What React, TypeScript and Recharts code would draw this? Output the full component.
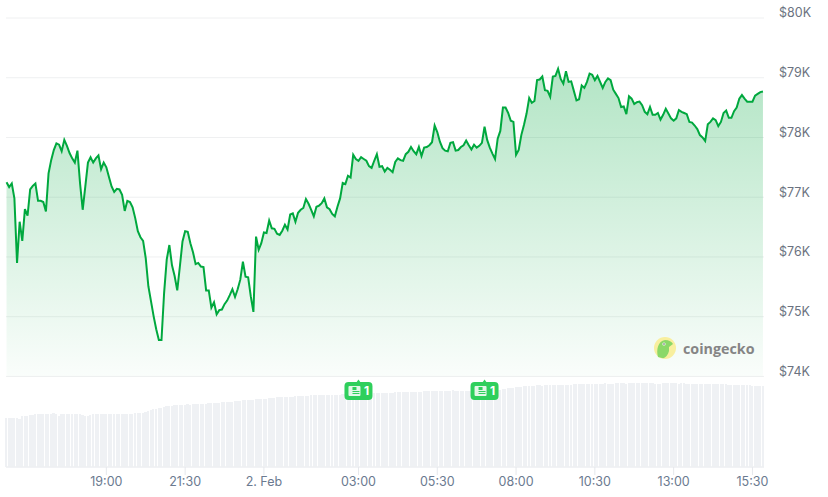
import {
  ComposedChart,
  Area,
  Bar,
  XAxis,
  YAxis,
  CartesianGrid,
  ReferenceDot,
} from 'recharts';

// price in $K, one reading every 5 minutes starting 15:50
const prices = [
  77.25, 77.17, 77.23, 76.98, 75.9, 76.59, 76.27, 76.8, 76.69, 77.13, 77.19, 77.23,
  76.94, 76.94, 76.92, 76.76, 77.4, 77.62, 77.79, 77.9, 77.88, 77.77, 77.96, 77.86,
  77.74, 77.65, 77.58, 77.78, 77.23, 76.79, 77.18, 77.58, 77.67, 77.58, 77.65, 77.7,
  77.47, 77.58, 77.5, 77.34, 77.18, 77.09, 77.14, 77.13, 77.04, 76.77, 76.94, 76.92,
  76.83, 76.65, 76.43, 76.33, 76.27, 75.98, 75.51, 75.26, 75.01, 74.79, 74.61, 74.61,
  75.4, 75.96, 76.2, 75.86, 75.68, 75.44, 75.84, 76.26, 76.43, 76.42, 76.23, 76.08,
  75.88, 75.9, 75.84, 75.83, 75.44, 75.44, 75.15, 75.24, 75.04, 75.11, 75.12, 75.21,
  75.27, 75.36, 75.46, 75.33, 75.46, 75.62, 75.92, 75.67, 75.66, 75.34, 75.08, 76.34,
  76.12, 76.23, 76.41, 76.4, 76.61, 76.48, 76.47, 76.39, 76.37, 76.44, 76.54, 76.46,
  76.71, 76.73, 76.59, 76.74, 76.79, 76.82, 76.97, 76.89, 76.79, 76.68, 76.84, 76.86,
  76.9, 76.98, 76.83, 76.8, 76.72, 76.68, 76.84, 76.98, 77.24, 77.22, 77.36, 77.33,
  77.71, 77.64, 77.61, 77.67, 77.64, 77.61, 77.52, 77.49, 77.61, 77.72, 77.51, 77.52,
  77.43, 77.49, 77.46, 77.42, 77.59, 77.65, 77.62, 77.61, 77.72, 77.76, 77.84, 77.77,
  77.72, 77.84, 77.69, 77.83, 77.84, 77.87, 77.92, 78.2, 78.09, 77.93, 77.82, 77.78,
  77.77, 77.91, 77.92, 77.78, 77.79, 77.84, 77.87, 77.95, 77.87, 77.8, 77.88, 77.83,
  77.86, 77.91, 78.18, 77.96, 77.83, 77.73, 77.64, 77.98, 78.11, 78.5, 78.5, 78.41,
  78.28, 78.26, 77.71, 77.79, 78.04, 78.21, 78.4, 78.66, 78.58, 78.61, 78.96, 78.97,
  79.02, 78.79, 78.78, 78.68, 79.02, 79.03, 79.15, 78.98, 78.9, 79.11, 78.93, 78.94,
  78.78, 78.62, 78.64, 78.87, 78.83, 78.93, 79.07, 79.05, 78.96, 79.03, 78.93, 78.83,
  78.93, 78.99, 78.96, 78.8, 78.73, 78.66, 78.51, 78.52, 78.39, 78.69, 78.65, 78.56,
  78.59, 78.6, 78.54, 78.43, 78.39, 78.51, 78.38, 78.38, 78.41, 78.3, 78.38, 78.48,
  78.4, 78.32, 78.28, 78.32, 78.46, 78.43, 78.41, 78.39, 78.26, 78.25, 78.2, 78.14,
  78.04, 78, 77.94, 78.22, 78.26, 78.32, 78.29, 78.19, 78.26, 78.41, 78.45, 78.33,
  78.33, 78.44, 78.5, 78.65, 78.71, 78.65, 78.6, 78.6, 78.6, 78.7, 78.73, 78.76,
  78.77,
];

// volume in $B, same readings
const volumes = [
  34.9, 34.9, 34.9, 34.9, 34.9, 34.4, 36.4, 36.4, 36.4, 37.1, 37.1, 37.8,
  37.8, 37.8, 37.8, 37.8, 37.8, 37.8, 38.2, 37.8, 36.4, 37.8, 37.8, 37.8,
  37.8, 37.8, 37.8, 37.8, 37.8, 37.1, 36.4, 36.4, 36.9, 37.8, 37.8, 37.8,
  37.8, 37.8, 37.8, 37.8, 37.8, 37.8, 37.8, 37.8, 37.8, 37.8, 37.8, 37.8,
  37.8, 38.3, 38.8, 38.5, 38.8, 39.2, 39.9, 40.5, 41.0, 41.3, 41.8, 42.3,
  42.8, 43.2, 43.2, 43.6, 43.9, 44.2, 44.2, 44.5, 44.2, 44.9, 44.5, 44.9,
  44.9, 44.9, 44.9, 45.2, 45.2, 45.5, 45.5, 45.5, 45.9, 45.9, 46.3, 46.3,
  46.3, 46.6, 46.6, 46.9, 47.1, 47.1, 47.4, 47.8, 47.8, 47.4, 47.8, 48.2,
  48.5, 48.8, 48.5, 48.8, 49.2, 49.2, 49.2, 49.6, 49.6, 49.9, 49.9, 50.2,
  50.2, 50.2, 50.6, 50.6, 50.6, 50.9, 50.9, 50.9, 51.3, 51.3, 51.3, 51.3,
  51.3, 51.3, 51.3, 51.3, 51.3, 51.3, 51.6, 51.6, 51.9, 52.3, 52.3, 52.7,
  52.7, 52.7, 52.7, 52.7, 52.7, 52.7, 52.7, 52.7, 52.4, 52.7, 52.7, 52.7,
  52.7, 52.7, 52.7, 52.7, 53.1, 53.1, 53.5, 53.5, 53.5, 53.5, 53.5, 53.5,
  53.5, 53.5, 53.5, 53.9, 53.9, 54.2, 54.2, 54.2, 54.2, 54.2, 54.2, 54.2,
  54.2, 54.2, 54.6, 54.2, 54.2, 54.2, 54.2, 54.2, 54.2, 54.2, 54.2, 54.2,
  54.2, 54.2, 54.2, 54.2, 54.2, 54.2, 54.9, 54.9, 54.9, 55.3, 55.6, 56.3,
  56.3, 56.3, 56.9, 56.9, 57.3, 57.7, 57.7, 57.7, 57.7, 57.7, 58.1, 58.4,
  58.0, 58.4, 58.4, 58.4, 58.4, 58.4, 58.4, 58.4, 58.4, 58.4, 58.4, 58.4,
  59.1, 59.1, 59.1, 59.5, 59.5, 59.5, 59.5, 59.5, 59.5, 59.5, 59.5, 59.5,
  59.9, 59.5, 59.5, 59.5, 59.9, 59.9, 59.9, 59.9, 59.5, 59.9, 59.9, 59.9,
  59.9, 59.9, 59.9, 59.9, 59.9, 59.9, 59.9, 59.5, 59.5, 59.5, 59.9, 59.9,
  59.9, 59.9, 59.9, 59.9, 59.5, 59.9, 59.9, 59.5, 59.5, 59.5, 59.5, 59.5,
  59.5, 59.5, 59.5, 59.1, 59.1, 59.1, 59.1, 59.1, 59.1, 59.1, 59.1, 58.7,
  58.7, 58.7, 58.7, 58.4, 58.4, 58.4, 58.4, 58.4, 58.0, 58.0, 57.7, 57.7,
  57.7,
];

const priceTicks = [74, 75, 76, 77, 78, 79, 80];
const timeTicks = [190, 340, 490, 670, 820, 970, 1120, 1270, 1420];
const timeLabels = ['19:00', '21:30', '2. Feb', '03:00', '05:30', '08:00', '10:30', '13:00', '15:30'];
const newsEvents = [670, 910];

const chartData = prices.map((price, i) => ({
  minute: i * 5,
  price,
  volume: volumes[i],
}));

function PriceTick({ x, y, payload }: any) {
  return (
    <text x={x + 7} y={y - 4} fill="#6b7280" fontSize={12.5} dominantBaseline="middle" fontFamily="Inter">
      ${payload.value}K
    </text>
  );
}

function NewsFlag({ cx, cy }: any) {
  return (
    <g>
      <path d={`M${cx - 2.5} ${cy - 8} L${cx} ${cy - 11.5} L${cx + 2.5} ${cy - 8} Z`} fill="#2fcf5c" />
      <rect x={cx - 14} y={cy - 9} width={28} height={18} rx={4} fill="#2fcf5c" />
      <rect x={cx - 10} y={cy - 5} width={12} height={10} rx={1} fill="#e4f7e9" />
      <rect x={cx - 6} y={cy - 4} width={4} height={3} fill="#2fcf5c" />
      <rect x={cx - 6} y={cy} width={7} height={1} fill="#2fcf5c" />
      <rect x={cx - 6} y={cy + 2} width={7} height={1} fill="#2fcf5c" />
      <text x={cx + 8} y={cy + 0.5} fill="#ffffff" fontSize={12} fontWeight={700} textAnchor="middle" dominantBaseline="middle" fontFamily="Inter">
        1
      </text>
    </g>
  );
}

function GeckoLogo() {
  return (
    <div style={{ position: 'absolute', left: 653, top: 336, display: 'flex', alignItems: 'center' }}>
      <svg width={24} height={24} viewBox="0 0 24 24">
        <circle cx={12} cy={12} r={11} fill="#f8ef9e" />
        <path d="M5 21 C3 14 5 5 12 4 C16 4 19 6 20 8 L16 11 L16 15 C15 19 12 23 9 22 Z" fill="#8bd868" />
        <circle cx={11} cy={8} r={1.6} fill="#ffffff" />
        <circle cx={11} cy={8} r={0.8} fill="#555555" />
      </svg>
      <span style={{ marginLeft: 6, fontFamily: 'Open Sans', fontWeight: 700, fontSize: 14.3, color: '#858585' }}>
        coingecko
      </span>
    </div>
  );
}

export default function App() {
  return (
    <div style={{ position: 'absolute', left: 0, top: 0, width: 828, height: 497, background: '#ffffff' }}>
      <ComposedChart
        width={828}
        height={497}
        data={chartData}
        margin={{ top: 18, right: 0, left: 6, bottom: 0 }}
      >
        <defs>
          <linearGradient id="gradPrice" x1="0" y1="0" x2="0" y2="1">
            <stop offset="0%" stopColor="#00a83e" stopOpacity={0.3} />
            <stop offset="100%" stopColor="#00a83e" stopOpacity={0.02} />
          </linearGradient>
        </defs>
        <CartesianGrid yAxisId="price" vertical={false} stroke="#eff0f1" />
        <XAxis
          dataKey="minute"
          type="number"
          domain={[-1, 1442]}
          ticks={timeTicks}
          interval={0}
          height={30}
          tick={{ fill: '#6b7a90', fontSize: 12.5, fontFamily: 'Inter' }}
          tickSize={8}
          tickLine={{ stroke: '#e6e8ec' }}
          axisLine={{ stroke: '#eceef1' }}
          tickFormatter={(m: number) => timeLabels[timeTicks.indexOf(m)]}
        />
        <YAxis
          yAxisId="price"
          orientation="right"
          width={64}
          domain={[72.484, 80]}
          ticks={priceTicks}
          interval={0}
          allowDataOverflow
          axisLine={false}
          tickLine={false}
          tick={PriceTick}
        />
        <YAxis yAxisId="volume" hide domain={[0, 320]} />
        <Bar
          yAxisId="volume"
          dataKey="volume"
          fill="#eff1f4"
          barSize={2.2}
          shapeRendering="crispEdges"
          isAnimationActive={false}
        />
        <Area
          yAxisId="price"
          type="linear"
          dataKey="price"
          baseValue={74}
          stroke="#00a83e"
          strokeWidth={2}
          fill="url(#gradPrice)"
          fillOpacity={1}
          dot={false}
          activeDot={false}
          isAnimationActive={false}
        />
        {newsEvents.map((m) => (
          <ReferenceDot
            key={m}
            yAxisId="price"
            x={m}
            y={73.756}
            ifOverflow="visible"
            shape={NewsFlag}
          />
        ))}
      </ComposedChart>
      <GeckoLogo />
    </div>
  );
}
